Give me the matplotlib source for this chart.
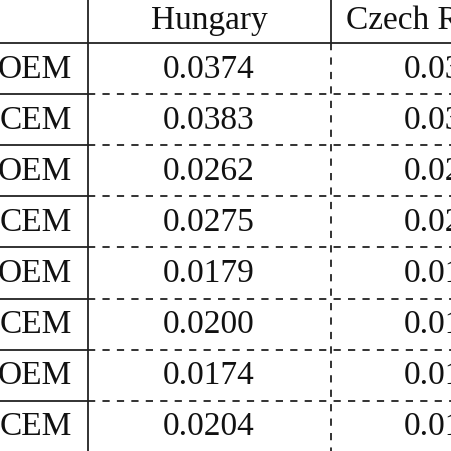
import matplotlib
matplotlib.use("Agg")
import matplotlib.pyplot as plt

columns = ["Hungary", "Czech Republic"]
row_labels = ["OEM", "CEM", "OEM", "CEM", "OEM", "CEM", "OEM", "CEM"]
hungary = ["0.0374", "0.0383", "0.0262", "0.0275", "0.0179", "0.0200", "0.0174", "0.0204"]
czech = ["0.0312", "0.0318", "0.0221", "0.0230", "0.0150", "0.0168", "0.0147", "0.0172"]

fig = plt.figure(figsize=(4.52, 4.52), dpi=100)
ax = fig.add_axes([0, 0, 1, 1])
ax.set_xlim(0, 452); ax.set_ylim(452, 0); ax.axis("off")
font = dict(family="Liberation Serif", fontsize=24, color="#111111")
lc = "#222222"
top = 44; h = 51.1
x1, x2, xc1, xc2 = 88, 331, 209, 450

ax.text(xc1, 21, columns[0], ha="center", va="center", **font)
ax.text(346, 21, columns[1], ha="left", va="center", **font)
ax.plot([0, 452], [top, top], color=lc, lw=1.3)
ax.plot([x1, x1], [0, 452], color=lc, lw=1.3)
ax.plot([x2, x2], [0, top], color=lc, lw=1.3)
ax.plot([x2, x2], [top, 452], color=lc, lw=1.3, ls=(0, (4, 4)))
for i, (lab, hv, cv) in enumerate(zip(row_labels, hungary, czech)):
    yc = top + h * (i + 0.5)
    ax.text(72, yc, lab, ha="right", va="center", **font)
    ax.text(xc1, yc, hv, ha="center", va="center", **font)
    ax.text(xc2, yc, cv, ha="center", va="center", **font)
    if i < len(row_labels) - 1:
        yl = top + h * (i + 1)
        ax.plot([0, x1], [yl, yl], color=lc, lw=1.3)
        ax.plot([x1, 452], [yl, yl], color=lc, lw=1.3, ls=(0, (4, 4)))
fig.savefig("out.png", dpi=100)
